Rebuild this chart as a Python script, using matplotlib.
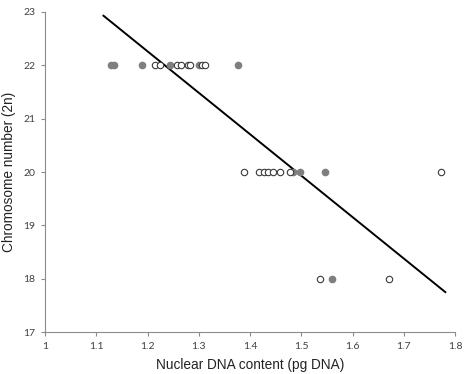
import matplotlib
matplotlib.use("Agg")
import matplotlib.pyplot as plt

# data
filled_x = [1.128, 1.134, 1.190, 1.243, 1.300, 1.377,
            1.483, 1.497, 1.546,
            1.560]
filled_y = [22, 22, 22, 22, 22, 22,
            20, 20, 20,
            18]
open_x = [1.215, 1.225, 1.258, 1.265, 1.278, 1.283, 1.307, 1.313,
          1.388, 1.418, 1.428, 1.436, 1.444, 1.458, 1.478, 1.772,
          1.537, 1.672]
open_y = [22, 22, 22, 22, 22, 22, 22, 22,
          20, 20, 20, 20, 20, 20, 20, 20,
          18, 18]

# regression line end points
fit_x = [1.114, 1.781]
fit_y = [22.93, 17.75]

x_ticks = [1, 1.1, 1.2, 1.3, 1.4, 1.5, 1.6, 1.7, 1.8]
x_tick_labels = ["1", "1.1", "1.2", "1.3", "1.4", "1.5", "1.6", "1.7", "1.8"]
y_ticks = [17, 18, 19, 20, 21, 22, 23]

fig = plt.figure(figsize=(4.74, 3.74), dpi=100)
ax = fig.add_axes([0.095, 0.112, 0.865, 0.856])

ax.plot(fit_x, fit_y, color="black", linewidth=1.4, zorder=2)
ax.plot(filled_x, filled_y, linestyle="none", marker="o", markersize=4.5,
        markerfacecolor="#7f7f7f", markeredgecolor="#7f7f7f", zorder=3)
ax.plot(open_x, open_y, linestyle="none", marker="o", markersize=4.6,
        markerfacecolor="white", markeredgecolor="#3a3a3a",
        markeredgewidth=0.8, zorder=3)

ax.set_xlim(1, 1.8)
ax.set_ylim(17, 23)
ax.set_xticks(x_ticks)
ax.set_xticklabels(x_tick_labels)
ax.set_yticks(y_ticks)

for s in ["top", "right"]:
    ax.spines[s].set_visible(False)
for s in ["left", "bottom"]:
    ax.spines[s].set_color("#8c8c8c")
    ax.spines[s].set_linewidth(0.8)

ax.tick_params(direction="out", length=3, width=0.8, color="#8c8c8c",
               labelsize=7.5, labelcolor="#404040", pad=4)
for lab in ax.get_xticklabels() + ax.get_yticklabels():
    lab.set_family("Lato")

ax.set_xlabel("Nuclear DNA content (pg DNA)", fontsize=9.8,
              family="Liberation Sans", color="#222222", labelpad=5)
ax.set_ylabel("Chromosome number (2n)", fontsize=9.8,
              family="Liberation Sans", color="#222222", labelpad=5)

fig.savefig("out.png", dpi=100)
